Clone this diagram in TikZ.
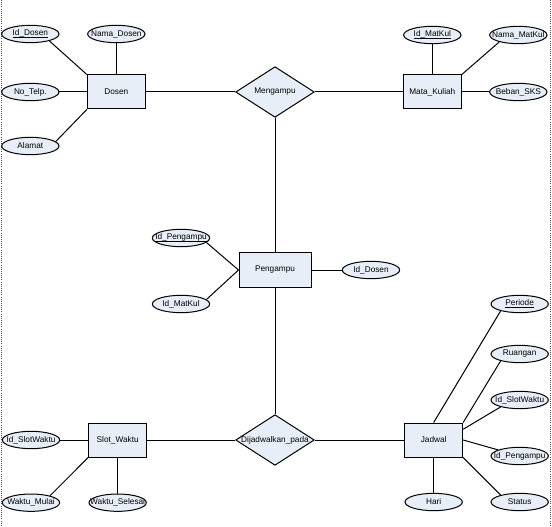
\documentclass[tikz,border=0pt]{standalone}
\usepackage{fontspec}
\setmainfont{Liberation Sans}
\usetikzlibrary{shapes.geometric}
\usetikzlibrary{positioning}
\definecolor{erfill}{RGB}{232,238,248}
\newcommand{\keyattr}[1]{\setbox0\hbox{#1}\rlap{\raisebox{-1.6pt}{\rule{\wd0}{0.8pt}}}\box0}

\begin{document}
\begin{tikzpicture}[on grid, line width=0.75pt, font=\fontsize{6.2}{7.5}\selectfont]
    % Define styles
    \tikzstyle{entity} = [rectangle, draw, fill=erfill, minimum width=43.5pt, minimum height=25.5pt, inner sep=0pt]
    \tikzstyle{relation} = [diamond, draw, fill=erfill, minimum width=59pt, minimum height=38pt, inner xsep=-30pt, inner ysep=0pt]
    \tikzstyle{attr} = [ellipse, draw, fill=erfill, minimum width=43pt, minimum height=13pt, inner xsep=-7pt, inner ysep=0pt]
    \tikzstyle{line} = [draw]
    \tikzstyle{frame} = [draw, densely dotted, line width=0.6pt, black!70]

    % Page size and side rules
    \useasboundingbox (-206.25pt,69pt) rectangle (207.75pt,-326.25pt);
    \path [frame] (-205.1pt,69pt) -- (-205.1pt,-326.25pt);
    \path [frame] (206.25pt,69pt) -- (206.25pt,-326.25pt);

    % Place nodes
    \node [relation] (mengampu) {Mengampu};
    \node [entity, left=119pt of mengampu] (dosen) {Dosen};
    \node [entity, right=118pt of mengampu] (matakuliah) {Mata\_Kuliah};
    \node [entity, minimum width=54pt, minimum height=26pt, below=133.5pt of mengampu] (pengampu) {Pengampu};
    \node [relation, below=127.5pt of pengampu] (dijadwalkan) {Dijadwalkan\_pada};
    \node [entity, left=118pt of dijadwalkan] (slotwaktu) {Slot\_Waktu};
    \node [entity, right=119pt of dijadwalkan] (jadwal) {Jadwal};

    % Attributes
    \node [attr, above left=43.5pt and 64.5pt of dosen] (iddosen) {\keyattr{Id\_Dosen}};
    \node [attr, above=43.5pt of dosen] (namadosen) {Nama\_Dosen};
    \node [attr, left=64.5pt of dosen] (notelp) {No\_Telp.};
    \node [attr, below left=40.5pt and 64.5pt of dosen] (alamat) {Alamat};

    \node [attr, above=42.75pt of matakuliah] (idmatkul) {\keyattr{Id\_MatKul}};
    \node [attr, above right=42.75pt and 64.5pt of matakuliah] (namamatkul) {Nama\_MatKul};
    \node [attr, right=64.5pt of matakuliah] (bebansks) {Beban\_SKS};

    \node [attr, above left=24pt and 70.5pt of pengampu] (idpengampu) {\keyattr{Id\_Pengampu}};
    \node [attr, below left=25.5pt and 70.5pt of pengampu] (pmatkul) {Id\_MatKul};
    \node [attr, right=72pt of pengampu] (pdosen) {Id\_Dosen};

    \node [attr, left=65pt of slotwaktu] (idslot) {Id\_SlotWaktu};
    \node [attr, below left=47pt and 65pt of slotwaktu] (mulai) {Waktu\_Mulai};
    \node [attr, below=47pt of slotwaktu] (selesai) {Waktu\_Selesai};

    \node [attr, above right=102pt and 64.5pt of jadwal] (periode) {\keyattr{Periode}};
    \node [attr, above right=64.5pt and 64.5pt of jadwal] (ruangan) {Ruangan};
    \node [attr, above right=30pt and 64.5pt of jadwal] (jslot) {Id\_SlotWaktu};
    \node [attr, below right=12pt and 64.5pt of jadwal] (jpengampu) {Id\_Pengampu};
    \node [attr, below right=46.5pt and 64.5pt of jadwal] (status) {Status};
    \node [attr, below=46.5pt of jadwal] (hari) {Hari};

    % Draw edges
    \path [line] (dosen) -- (mengampu);
    \path [line] (mengampu) -- (matakuliah);
    \path [line] (mengampu) -- (pengampu);
    \path [line] (pengampu) -- (dijadwalkan);
    \path [line] (slotwaktu) -- (dijadwalkan);
    \path [line] (dijadwalkan) -- (jadwal);

    \path [line] (iddosen.-20) -- (dosen.north west);
    \path [line] (namadosen) -- (dosen);
    \path [line] (notelp) -- (dosen);
    \path [line] (alamat.10) -- (dosen.south west);

    \path [line] (idmatkul) -- (matakuliah);
    \path [line] (namamatkul.200) -- (matakuliah.north east);
    \path [line] (bebansks) -- (matakuliah);

    \path [line] (idpengampu.-10) -- (pengampu.west);
    \path [line] (pmatkul.10) -- (pengampu.west);
    \path [line] (pdosen) -- (pengampu);

    \path [line] (idslot) -- (slotwaktu);
    \path [line] (mulai.20) -- (slotwaktu.south west);
    \path [line] (selesai) -- (slotwaktu);

    \path [line] (periode.200) -- (jadwal.north);
    \path [line] (ruangan.200) -- (jadwal.north east);
    \path [line] (jslot.200) -- (jadwal.20);
    \path [line] (jpengampu) -- (jadwal.east);
    \path [line] (status.160) -- (jadwal.south east);
    \path [line] (hari) -- (jadwal);
\end{tikzpicture}
\end{document}
